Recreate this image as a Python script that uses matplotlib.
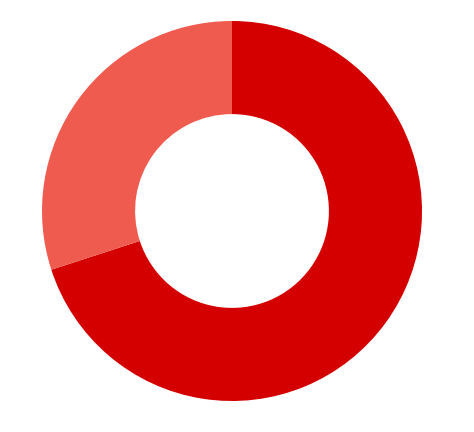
import matplotlib
matplotlib.use("Agg")
import matplotlib.pyplot as plt

labels = ["A", "B"]
values = [70, 30]
colors = ["#d40000", "#f05b50"]

fig = plt.figure(figsize=(4.74, 4.32), dpi=100)
# axes placed so the ring sits at the same spot as the reference
ax = fig.add_axes([42 / 474, 31 / 432, 380 / 474, 380 / 432])
ax.pie(
    values,
    colors=colors,
    startangle=90,
    counterclock=False,
    radius=1.0,
    wedgeprops={"width": 0.49, "linewidth": 0},
)
ax.set_xlim(-1, 1)
ax.set_ylim(-1, 1)
ax.set_aspect("equal")
ax.axis("off")

fig.savefig("out.png", dpi=100)
